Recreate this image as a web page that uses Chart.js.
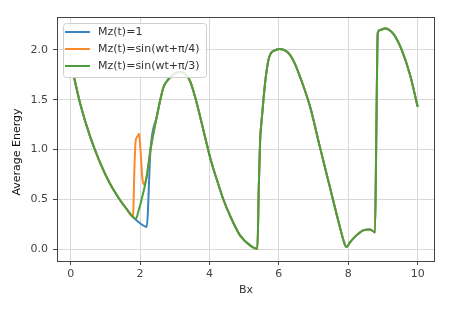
<!DOCTYPE html>
<html lang="en">
<head>
  <meta charset="UTF-8">
  <script src="https://cdn.jsdelivr.net/npm/chart.js"></script>
  <title>Average Energy vs Bx</title>
  <style>
    body{margin: 0; background: #fff;}
    #wrap{width: 474px; height: 311px;}
  </style>
</head>
<body>
  <div id="wrap">
    <canvas id="myChart" width="474" height="311"></canvas>
  </div>
  <script>
    // series labels
    const labels = ['Mz(t)=1', 'Mz(t)=sin(wt+\u03c0/4)', 'Mz(t)=sin(wt+\u03c0/3)'];
    const colors = ['#3a84c0', '#fa8a2c', '#4b9e3c'];

    // common part before the curves split
    const headX = [0.1, 0.27, 0.56, 0.84, 1.13, 1.42, 1.62, 1.78];
    const headY = [1.72, 1.465, 1.13, 0.875, 0.66, 0.495, 0.40, 0.33];

    // where the three curves differ
    const blueX = [1.9, 2.19];
    const blueY = [0.29, 0.225];
    const orangeX = [1.80, 1.84, 1.87, 1.92, 1.97, 2.0, 2.07, 2.12, 2.19];
    const orangeY = [0.36, 0.85, 1.08, 1.13, 1.16, 1.05, 0.70, 0.65, 0.73];
    const greenX = [1.88, 1.95, 2.04, 2.19];
    const greenY = [0.305, 0.38, 0.495, 0.73];

    // common part after they join again
    const tailX = [2.30, 2.48, 2.67, 2.8, 2.95, 3.15, 3.3, 3.45, 3.63, 3.87, 4.05, 4.21, 4.4, 4.59, 4.88, 5.17, 5.38,
      5.42, 5.46, 5.5, 5.56, 5.62, 5.7, 5.76, 5.85, 6.03, 6.2, 6.32, 6.45, 6.61, 6.9, 7.18, 7.47, 7.71, 7.9, 7.95,
      8.05, 8.19, 8.43, 8.63, 8.77, 8.81, 8.85, 8.92, 9.06, 9.3, 9.54, 9.78, 10.0];
    const tailY = [1.0, 1.33, 1.62, 1.70, 1.75, 1.78, 1.76, 1.68, 1.47, 1.13, 0.88, 0.70, 0.50, 0.34, 0.14, 0.04, 0.006,
      0.6, 1.1, 1.28, 1.52, 1.72, 1.9, 1.96, 1.99, 2.01, 1.99, 1.95, 1.87, 1.73, 1.43, 1.03, 0.625, 0.29, 0.05, 0.023,
      0.07, 0.125, 0.19, 0.2, 0.17, 1.2, 2.17, 2.2, 2.215, 2.16, 2.0, 1.75, 1.43];

    const xTicks = [0, 2, 4, 6, 8, 10];
    const yTicks = [0.0, 0.5, 1.0, 1.5, 2.0];

    function pts(xs, ys){
      return xs.map(function(x, i){ return {x: x, y: ys[i]}; });
    }
    const blueData = pts(headX, headY).concat(pts(blueX, blueY), pts(tailX, tailY));
    const orangeData = pts(headX, headY).concat(pts(orangeX, orangeY), pts(tailX, tailY));
    const greenData = pts(headX, headY).concat(pts(greenX, greenY), pts(tailX, tailY));

    const FONT = 'DejaVu Sans';

    // box round the plot + legend + y title
    const extras = {
      id: 'extras',
      afterDraw(chart){
        const c = chart.ctx, a = chart.chartArea;
        c.save();
        c.strokeStyle = '#444';
        c.lineWidth = 1;
        c.strokeRect(Math.round(a.left) + 0.5, Math.round(a.top) + 0.5, Math.round(a.right - a.left) - 1, Math.round(a.bottom - a.top));

        // legend
        const bx = 63, by = 23, bw = 143, bh = 54;
        c.fillStyle = 'rgba(255,255,255,0.85)';
        c.strokeStyle = '#d0d0d0';
        c.beginPath();
        c.roundRect(bx + 0.5, by + 0.5, bw, bh, 3);
        c.fill();
        c.stroke();
        c.font = '11px "' + FONT + '"';
        c.textBaseline = 'middle';
        chart.data.datasets.forEach(function(ds, i){
          const ly = 32 + i * 17;
          c.strokeStyle = ds.borderColor;
          c.lineWidth = 2;
          c.beginPath();
          c.moveTo(65, ly);
          c.lineTo(90, ly);
          c.stroke();
          c.fillStyle = '#333';
          c.fillText(ds.label, 98, ly);
        });

        // y title
        c.translate(17, 152);
        c.rotate(-Math.PI / 2);
        c.textAlign = 'center';
        c.fillStyle = '#111';
        c.font = '11px "' + FONT + '"';
        c.fillText('Average Energy', 0, 0);
        c.restore();
      }
    };

    new Chart(document.getElementById('myChart'), {
      type: 'scatter',
      data: {
        datasets: [
          {label: labels[0], data: blueData, borderColor: colors[0], order: 2},
          {label: labels[1], data: orangeData, borderColor: colors[1], order: 1},
          {label: labels[2], data: greenData, borderColor: colors[2], order: 0}
        ]
      },
      options: {
        responsive: false,
        animation: false,
        devicePixelRatio: 1,
        showLine: true,
        layout: {padding: {top: 17, right: 39, left: 0, bottom: 0}},
        elements: {
          point: {radius: 0},
          line: {borderWidth: 2, cubicInterpolationMode: 'monotone', fill: false}
        },
        plugins: {legend: {display: false}, tooltip: {enabled: false}},
        scales: {
          x: {
            type: 'linear',
            min: -0.395,
            max: 10.5,
            afterBuildTicks(s){ s.ticks = xTicks.map(function(v){ return {value: v}; }); },
            afterFit(s){ s.height = 50; },
            grid: {color: '#d8d8d8', tickColor: '#444', tickLength: 4},
            border: {display: false},
            ticks: {color: '#444', padding: 3, font: {family: FONT, size: 11}, maxRotation: 0},
            title: {display: true, text: 'Bx', color: '#333', font: {family: FONT, size: 11}, padding: {top: 0, bottom: 14}}
          },
          y: {
            type: 'linear',
            min: -0.117,
            max: 2.33,
            afterBuildTicks(s){ s.ticks = yTicks.map(function(v){ return {value: v}; }); },
            afterFit(s){ s.width = 57; },
            grid: {color: '#d8d8d8', tickColor: '#444', tickLength: 4},
            border: {display: false},
            ticks: {color: '#444', padding: 5, font: {family: FONT, size: 11},
              callback: function(v){ return v.toFixed(1); }}
          }
        }
      },
      plugins: [extras]
    });
  </script>
</body>
</html>
